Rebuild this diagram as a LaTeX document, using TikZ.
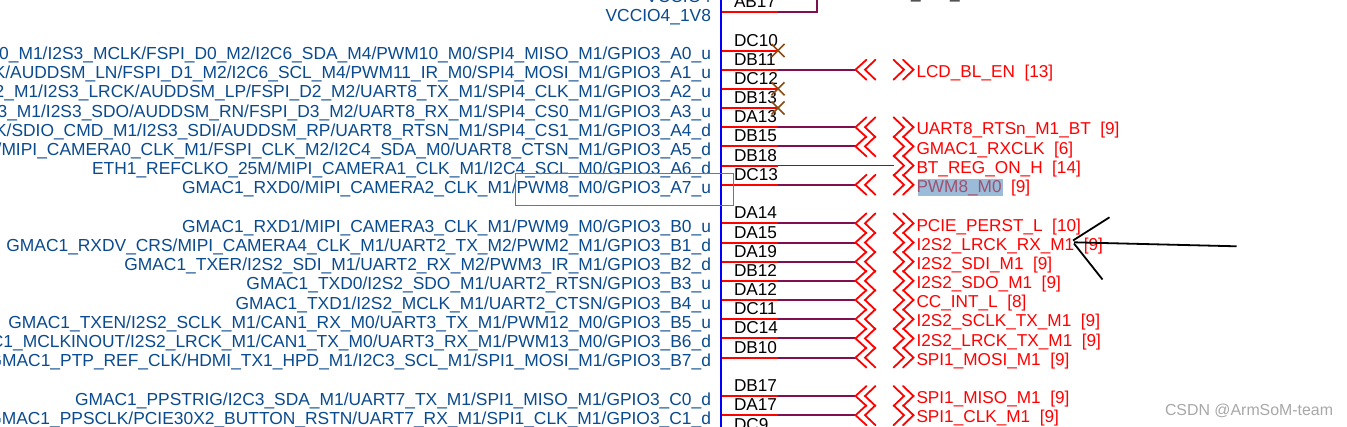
\documentclass[tikz,border=0pt]{standalone}
\usepackage{fontspec}
\setmainfont{Liberation Sans}
\definecolor{sigblue}{HTML}{0A4B8F}
\definecolor{wirepurple}{HTML}{7F1050}
\definecolor{noconn}{HTML}{8B4A10}
\definecolor{hilite}{HTML}{9ABCD8}
\definecolor{hitext}{HTML}{A05070}
\definecolor{marktext}{HTML}{A8A8A8}
\definecolor{boxred}{HTML}{E04848}
\tikzset{
  x=1pt,y=-1pt,
  schtext/.style={inner sep=0pt,outer sep=0pt,font=\fontsize{17.2}{20}\selectfont},
  lefttext/.style={schtext,anchor=base east,text=sigblue,font=\fontsize{17.4}{20}\selectfont},
  pinlabel/.style={schtext,anchor=base west,text=black},
  netlabel/.style={schtext,anchor=base west,text=red},
  redwire/.style={draw=red,line width=2pt},
  purplewire/.style={draw=wirepurple,line width=2pt},
  chevstroke/.style={draw=red,line width=1.8pt,line cap=round,miter limit=10},
  ncstroke/.style={draw=noconn,line width=1.6pt},
  pics/chevleft/.style={code={
    \draw[chevstroke] (11,-10) -- (0,0) -- (11,10);
    \draw[chevstroke] (20,-10) -- (9.5,0) -- (20,10);}},
  pics/chevright/.style={code={
    \draw[chevstroke] (0,-10) -- (10.5,0) -- (0,10);
    \draw[chevstroke] (9.5,-10) -- (20,0) -- (9.5,10);}},
  pics/ncmark/.style={code={
    \draw[ncstroke] (-6.5,-6.5) -- (6.5,6.5);
    \draw[ncstroke] (-6.5,6.5) -- (6.5,-6.5);}},
}
% id, y, left text, pin
\newcommand{\pinrow}[4]{%
  \node[lefttext] (L#1) at (711,{#2+9}) {#3};
  \node[pinlabel] (P#1) at (734,{#2-4.5}) {#4};
  \coordinate (a#1) at (721,#2);
  \coordinate (b#1) at (778,#2);
  \draw[redwire] (a#1) -- (b#1);
}
% id, y, net label
\newcommand{\netrow}[3]{%
  \coordinate (c#1) at (855.5,#2);
  \coordinate (d#1) at (893.5,#2);
  \draw[purplewire] (b#1) -- (c#1);
  \pic at (c#1) {chevleft};
  \pic at (d#1) {chevright};
  \node[netlabel] (N#1) at (916.5,{#2+7.7}) {#3};
}
\newcommand{\ncrow}[1]{\pic at (b#1) {ncmark};}
\begin{document}
\begin{tikzpicture}
\useasboundingbox (0,0) rectangle (1347,426);
\clip (0,0) rectangle (1347,426);
\fill[white] (0,0) rectangle (1347,426);

% highlight behind the selected net name
\fill[hilite] (917.7,179) rectangle (1003,195.7);

% top, cut by the page edge
\node[lefttext] (Ltop) at (711,2) {VCCIO4};
\node[schtext,anchor=base west,text=black] (frag1) at (911,-1.5) {\_};
\node[schtext,anchor=base west,text=black] (frag2) at (950,-1.5) {\_};

\pinrow{V}{12}{VCCIO4\_1V8}{AB17}
\coordinate (topV) at (817,-2);
\coordinate (cornV) at (817,12);
\draw[purplewire] (bV) -- (cornV) -- (topV);

% GPIO3_A
\pinrow{Aa}{50.5}{0\_M1/I2S3\_MCLK/FSPI\_D0\_M2/I2C6\_SDA\_M4/PWM10\_M0/SPI4\_MISO\_M1/GPIO3\_A0\_u}{DC10}
\pinrow{Ab}{69.7}{K/AUDDSM\_LN/FSPI\_D1\_M2/I2C6\_SCL\_M4/PWM11\_IR\_M0/SPI4\_MOSI\_M1/GPIO3\_A1\_u}{DB11}
\pinrow{Ac}{88.8}{2\_M1/I2S3\_LRCK/AUDDSM\_LP/FSPI\_D2\_M2/UART8\_TX\_M1/SPI4\_CLK\_M1/GPIO3\_A2\_u}{DC12}
\pinrow{Ad}{108}{3\_M1/I2S3\_SDO/AUDDSM\_RN/FSPI\_D3\_M2/UART8\_RX\_M1/SPI4\_CS0\_M1/GPIO3\_A3\_u}{DB13}
\pinrow{Ae}{127.2}{K/SDIO\_CMD\_M1/I2S3\_SDI/AUDDSM\_RP/UART8\_RTSN\_M1/SPI4\_CS1\_M1/GPIO3\_A4\_d}{DA13}
\pinrow{Af}{146.4}{/MIPI\_CAMERA0\_CLK\_M1/FSPI\_CLK\_M2/I2C4\_SDA\_M0/UART8\_CTSN\_M1/GPIO3\_A5\_d}{DB15}
\pinrow{Ag}{165.6}{ETH1\_REFCLKO\_25M/MIPI\_CAMERA1\_CLK\_M1/I2C4\_SCL\_M0/GPIO3\_A6\_d}{DB18}
\pinrow{Ah}{184.8}{GMAC1\_RXD0/MIPI\_CAMERA2\_CLK\_M1/PWM8\_M0/GPIO3\_A7\_u}{DC13}

% GPIO3_B
\pinrow{Ba}{223.3}{GMAC1\_RXD1/MIPI\_CAMERA3\_CLK\_M1/PWM9\_M0/GPIO3\_B0\_u}{DA14}
\pinrow{Bb}{242.5}{GMAC1\_RXDV\_CRS/MIPI\_CAMERA4\_CLK\_M1/UART2\_TX\_M2/PWM2\_M1/GPIO3\_B1\_d}{DA15}
\pinrow{Bc}{261.7}{GMAC1\_TXER/I2S2\_SDI\_M1/UART2\_RX\_M2/PWM3\_IR\_M1/GPIO3\_B2\_d}{DA19}
\pinrow{Bd}{280.8}{GMAC1\_TXD0/I2S2\_SDO\_M1/UART2\_RTSN/GPIO3\_B3\_u}{DB12}
\pinrow{Be}{300}{GMAC1\_TXD1/I2S2\_MCLK\_M1/UART2\_CTSN/GPIO3\_B4\_u}{DA12}
\pinrow{Bf}{319.2}{GMAC1\_TXEN/I2S2\_SCLK\_M1/CAN1\_RX\_M0/UART3\_TX\_M1/PWM12\_M0/GPIO3\_B5\_u}{DC11}
\pinrow{Bg}{338.4}{C1\_MCLKINOUT/I2S2\_LRCK\_M1/CAN1\_TX\_M0/UART3\_RX\_M1/PWM13\_M0/GPIO3\_B6\_d}{DC14}
\pinrow{Bh}{357.6}{GMAC1\_PTP\_REF\_CLK/HDMI\_TX1\_HPD\_M1/I2C3\_SCL\_M1/SPI1\_MOSI\_M1/GPIO3\_B7\_d}{DB10}

% GPIO3_C
\pinrow{Ca}{396}{GMAC1\_PPSTRIG/I2C3\_SDA\_M1/UART7\_TX\_M1/SPI1\_MISO\_M1/GPIO3\_C0\_d}{DB17}
\pinrow{Cb}{415.2}{GMAC1\_PPSCLK/PCIE30X2\_BUTTON\_RSTN/UART7\_RX\_M1/SPI1\_CLK\_M1/GPIO3\_C1\_d}{DA17}
\node[pinlabel] (PCc) at (734,430) {DC9};
\coordinate (aCc) at (721,434.4);

% unconnected pins
\ncrow{Aa}
\ncrow{Ac}
\ncrow{Ad}

% nets
\netrow{Ab}{69.7}{LCD\_BL\_EN\ \ [13]}
\netrow{Ae}{127.2}{UART8\_RTSn\_M1\_BT\ \ [9]}
\netrow{Af}{146.4}{GMAC1\_RXCLK\ \ [6]}
\netrow{Ah}{184.8}{\textcolor{hitext}{PWM8\_M0}\ \ [9]}
\netrow{Ba}{223.3}{PCIE\_PERST\_L\ \ [10]}
\netrow{Bb}{242.5}{I2S2\_LRCK\_RX\_M1\ \ [9]}
\netrow{Bc}{261.7}{I2S2\_SDI\_M1\ \ [9]}
\netrow{Bd}{280.8}{I2S2\_SDO\_M1\ \ [9]}
\netrow{Be}{300}{CC\_INT\_L\ \ [8]}
\netrow{Bf}{319.2}{I2S2\_SCLK\_TX\_M1\ \ [9]}
\netrow{Bg}{338.4}{I2S2\_LRCK\_TX\_M1\ \ [9]}
\netrow{Bh}{357.6}{SPI1\_MOSI\_M1\ \ [9]}
\netrow{Ca}{396}{SPI1\_MISO\_M1\ \ [9]}
\netrow{Cb}{415.2}{SPI1\_CLK\_M1\ \ [9]}

% BT_REG_ON_H: straight through, far side only
\coordinate (dAg) at (893.5,165.6);
\draw[draw=wirepurple,line width=1.5pt] (bAg) -- (dAg);
\pic at (dAg) {chevright};
\node[netlabel] (NAg) at (916.5,173.3) {BT\_REG\_ON\_H\ \ [14]};

% symbol edge
\coordinate (barT) at (721,-2);
\coordinate (barB) at (721,428);
\draw[draw=blue,line width=2pt] (barT) -- (barB);

% selection box
\coordinate (selA) at (515.5,173.3);
\coordinate (selB) at (733.5,205.3);
\draw[draw=boxred,line width=0.7pt] (selA) rectangle (selB);

% hand-drawn arrow
\coordinate (arTail) at (1236.7,246.3);
\coordinate (arTip) at (1074,242.3);
\coordinate (arUp) at (1109.5,217.3);
\coordinate (arTipU) at (1073,240.5);
\coordinate (arTipL) at (1074,243.5);
\coordinate (arLow) at (1102.5,279.5);
\draw[black,line width=1.8pt] (arTail) -- (arTip);
\draw[black,line width=1.8pt] (arTipU) -- (arUp);
\draw[black,line width=1.8pt] (arTipL) -- (arLow);

% watermark
\node[schtext,anchor=base west,text=marktext,font=\fontsize{15.9}{18}\selectfont] (mark) at (1165,415.7) {CSDN @ArmSoM-team};
\end{tikzpicture}
\end{document}
